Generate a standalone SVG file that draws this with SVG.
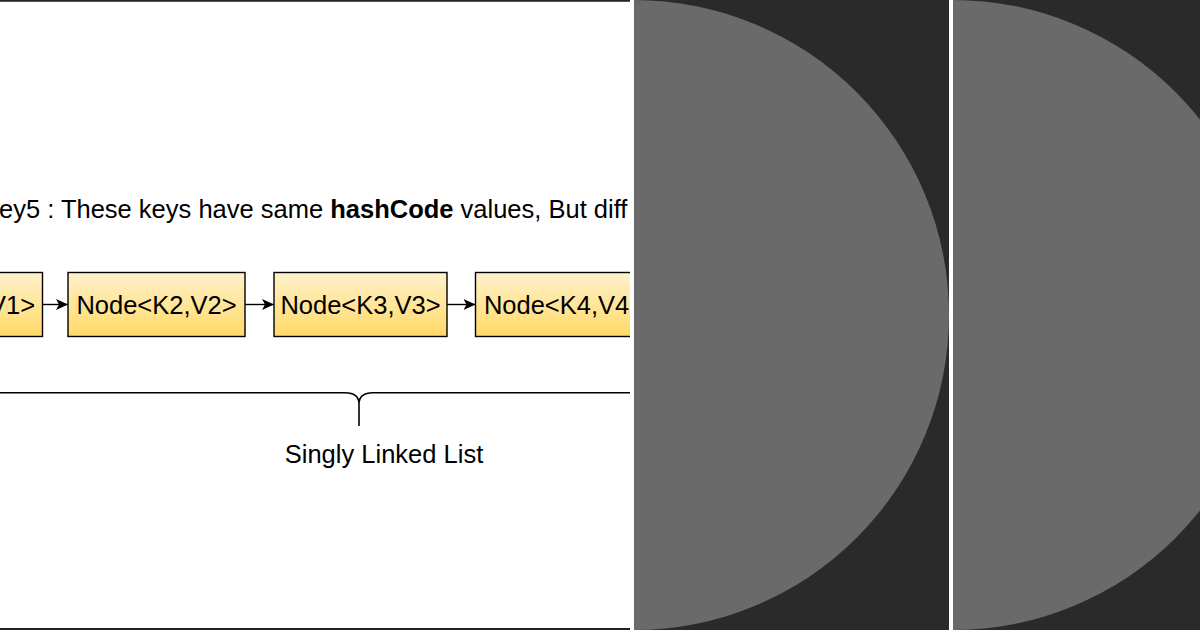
<svg xmlns="http://www.w3.org/2000/svg" width="1200" height="630" viewBox="0 0 1200 630">
  <defs>
    <linearGradient id="nodeFill" x1="0" y1="0" x2="0" y2="1">
      <stop offset="0" stop-color="#fff2cc"/>
      <stop offset="1" stop-color="#ffd966"/>
    </linearGradient>
    <marker id="arrow" viewBox="0 0 12 12" refX="12" refY="6" markerWidth="12" markerHeight="12" markerUnits="userSpaceOnUse" orient="auto">
      <path d="M0,0.5 L12,6 L0,11.5 L3,6 Z" fill="#000"/>
    </marker>
    <clipPath id="leftClip"><rect x="0" y="0" width="630" height="630"/></clipPath>
    <clipPath id="panel1"><rect x="634" y="0" width="315" height="630"/></clipPath>
    <clipPath id="panel2"><rect x="953" y="0" width="247" height="630"/></clipPath>
  </defs>
  <style>
    .node rect { fill: url(#nodeFill); stroke: #000; stroke-width: 1.4; }
    .node text { font-family: "Liberation Sans", Arial, sans-serif; font-size: 25.5px; fill: #000; text-anchor: middle; }
    .edge { stroke: #000; stroke-width: 1.4; fill: none; marker-end: url(#arrow); }
    .label { font-family: "Liberation Sans", Arial, sans-serif; font-size: 25.5px; fill: #000; }
    .dark { fill: #2a2a2a; }
    .disc { fill: #6a6a6a; }
  </style>

  <rect x="0" y="0" width="1200" height="630" fill="#ffffff"/>

  <g id="left-panel" clip-path="url(#leftClip)">
    <line x1="0" y1="0.8" x2="630" y2="0.8" stroke="#222" stroke-width="1.8"/>
    <line x1="0" y1="629" x2="630" y2="629" stroke="#222" stroke-width="1.8"/>

    <text id="title" class="label" x="-1" y="218">ey5 : These keys have same <tspan font-weight="bold">hashCode</tspan> values, But diff</text>

    <g id="connectors">
      <line class="edge" x1="42.5" y1="304.5" x2="68" y2="304.5"/>
      <line class="edge" x1="245" y1="304.5" x2="274" y2="304.5"/>
      <line class="edge" x1="447" y1="304.5" x2="475.5" y2="304.5"/>
    </g>

    <g id="node1" class="node">
      <rect x="-133" y="272.5" width="175.5" height="64"/>
      <text x="-45" y="313.5">Node&lt;K1,V1&gt;</text>
    </g>
    <g id="node2" class="node">
      <rect x="68" y="272.5" width="177" height="64"/>
      <text x="156.5" y="313.5">Node&lt;K2,V2&gt;</text>
    </g>
    <g id="node3" class="node">
      <rect x="274" y="272.5" width="173" height="64"/>
      <text x="360.5" y="313.5">Node&lt;K3,V3&gt;</text>
    </g>
    <g id="node4" class="node">
      <rect x="475.5" y="272.5" width="177" height="64"/>
      <text x="564" y="313.5">Node&lt;K4,V4&gt;</text>
    </g>

    <g id="brace">
      <path d="M0,392.7 L345,392.7 Q359,392.7 359,404 L359,426 M359,404 Q359,392.7 373,392.7 L630,392.7" fill="none" stroke="#000" stroke-width="1.6"/>
      <text class="label" x="384" y="463" text-anchor="middle">Singly Linked List</text>
    </g>
  </g>

  <g id="dark-panel-1" clip-path="url(#panel1)">
    <rect class="dark" x="634" y="0" width="315" height="630"/>
    <circle class="disc" cx="634" cy="315" r="315"/>
  </g>
  <g id="dark-panel-2" clip-path="url(#panel2)">
    <rect class="dark" x="953" y="0" width="247" height="630"/>
    <circle class="disc" cx="953" cy="315" r="315"/>
  </g>
</svg>
